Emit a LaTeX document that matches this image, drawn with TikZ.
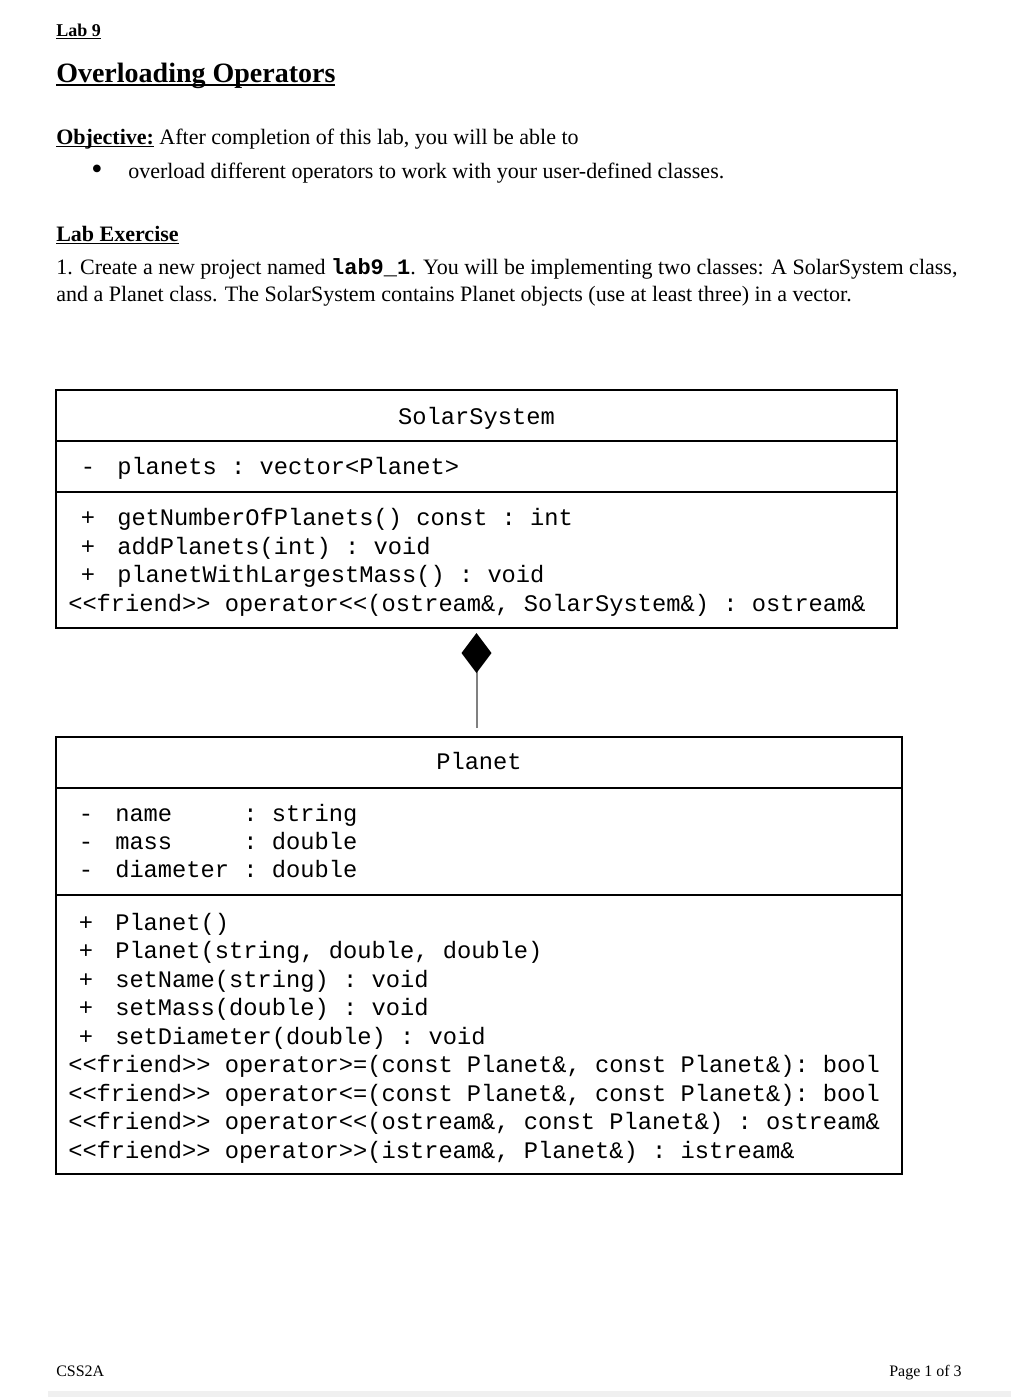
\documentclass[tikz,border=0pt]{standalone}
\usepackage{fontspec}
\setmainfont{Liberation Serif}
\setmonofont{Liberation Mono}
\usetikzlibrary{fit,arrows.meta}

% underline with a given rule thickness, just under the baseline
\newcommand{\thickul}[2][1pt]{\vtop{\hbox{\raisebox{0pt}[\height][0pt]{#2}}\kern1.3pt\hrule height #1}}

\begin{document}
\begin{tikzpicture}[x=0.75pt, y=-0.75pt,
    body/.style={anchor=base west, inner sep=0pt, font={\fontsize{16.5}{20}\selectfont}},
    head/.style={anchor=base west, inner sep=0pt, font={\bfseries\fontsize{#1}{#1}\selectfont}},
    uml/.style={anchor=base west, inner sep=0pt, font={\fontsize{17.8}{21.5}\selectfont\ttfamily}},
    sign/.style={anchor=base, inner sep=0pt, font={\fontsize{17.8}{21.5}\selectfont\ttfamily}},
    classbox/.style={draw, line width=1.5pt, inner sep=0pt},
    rule/.style={line width=1.5pt}]
  \useasboundingbox (0,0) rectangle (1011,1397);
  \fill[gray!12] (48,1391) rectangle (1011,1397);

  % heading and task text
  \node[head=13.5] (lab)   at (56,36)  {\thickul{Lab 9}};
  \node[head=21]   (title) at (56,82)  {\thickul[1.5pt]{Overloading Operators}};
  \node[body] (obj)  at (56,144) {\thickul{\textbf{Objective:}} After completion of this lab, you will be able to};
  \node[body, anchor=base, font={\fontsize{24}{24}\selectfont}] (dot) at (97,179) {•};
  \node[body] (goal) at (128,178) {overload different operators to work with your user-defined classes.};
  \node[head=16.5] (ex) at (56,241) {\thickul{Lab Exercise}};
  \node[body] (task1) at (56,274) {1. Create a new project named \textbf{\ttfamily lab9\_1}. You will be implementing two classes: A SolarSystem class,};
  \node[body] (task2) at (56,301) {and a Planet class. The SolarSystem contains Planet objects (use at least three) in a vector.};

  % SolarSystem class
  \node[classbox, fit={(56,390) (897,628)}] (solar) {};
  \draw[rule] (56,441) -- (897,441);
  \draw[rule] (56,492) -- (897,492);
  \node[uml, anchor=base] (solarname) at (476.5,424) {SolarSystem};
  \node[sign] (ssign0) at (88,474) {-};
  \node[uml]  (sattr)  at (117,474) {planets : vector<Planet>};
  \foreach \n/\y/\txt in {1/525/{getNumberOfPlanets() const : int},
                          2/554/{addPlanets(int) : void},
                          3/582/{planetWithLargestMass() : void}}
  {
    \node[sign] (ssign\n) at (88,\y) {+};
    \node[uml]  (sop\n)   at (117,\y) {\txt};
  }
  \node[uml] (sfriend) at (68,611) {<{}<friend>{}> operator<{}<(ostream\&, SolarSystem\&) : ostream\&};

  % Planet class
  \node[classbox, fit={(56,737) (902,1174)}] (planet) {};
  \draw[rule] (56,788) -- (902,788);
  \draw[rule] (56,895) -- (902,895);
  \node[uml, anchor=base] (planetname) at (479,769.5) {Planet};
  \foreach \n/\y/\txt in {1/821/{name~~~~~:~string},
                          2/849/{mass~~~~~:~double},
                          3/877.5/{diameter~:~double}}
  {
    \node[sign] (pasign\n) at (86,\y) {-};
    \node[uml]  (pattr\n)  at (115,\y) {\txt};
  }
  \foreach \n/\y/\txt in {1/930/{Planet()},
                          2/958.5/{Planet(string, double, double)},
                          3/987/{setName(string) : void},
                          4/1015.5/{setMass(double) : void},
                          5/1044/{setDiameter(double) : void}}
  {
    \node[sign] (posign\n) at (86,\y) {+};
    \node[uml]  (pop\n)    at (115,\y) {\txt};
  }
  \foreach \n/\y/\txt in {1/1072.5/{operator>=(const Planet\&, const Planet\&): bool},
                          2/1101/{operator<=(const Planet\&, const Planet\&): bool},
                          3/1129.5/{operator<{}<(ostream\&, const Planet\&) : ostream\&},
                          4/1158/{operator>{}>(istream\&, Planet\&) : istream\&}}
    \node[uml] (pfriend\n) at (68,\y) {<{}<friend>{}> \txt};

  % composition
  \draw[gray, line width=1.5pt, shorten <=6pt, shorten >=3pt,
        -{Diamond[black, length=30pt, width=22.5pt]}]
    (solar.south |- planet.north) -- (solar.south);

  % footer
  \node[body, font={\fontsize{12}{14}\selectfont}] (course) at (56,1376) {CSS2A};
  \node[body, font={\fontsize{12}{14}\selectfont}, anchor=base east] (page) at (962,1376) {Page 1 of 3};
\end{tikzpicture}
\end{document}
